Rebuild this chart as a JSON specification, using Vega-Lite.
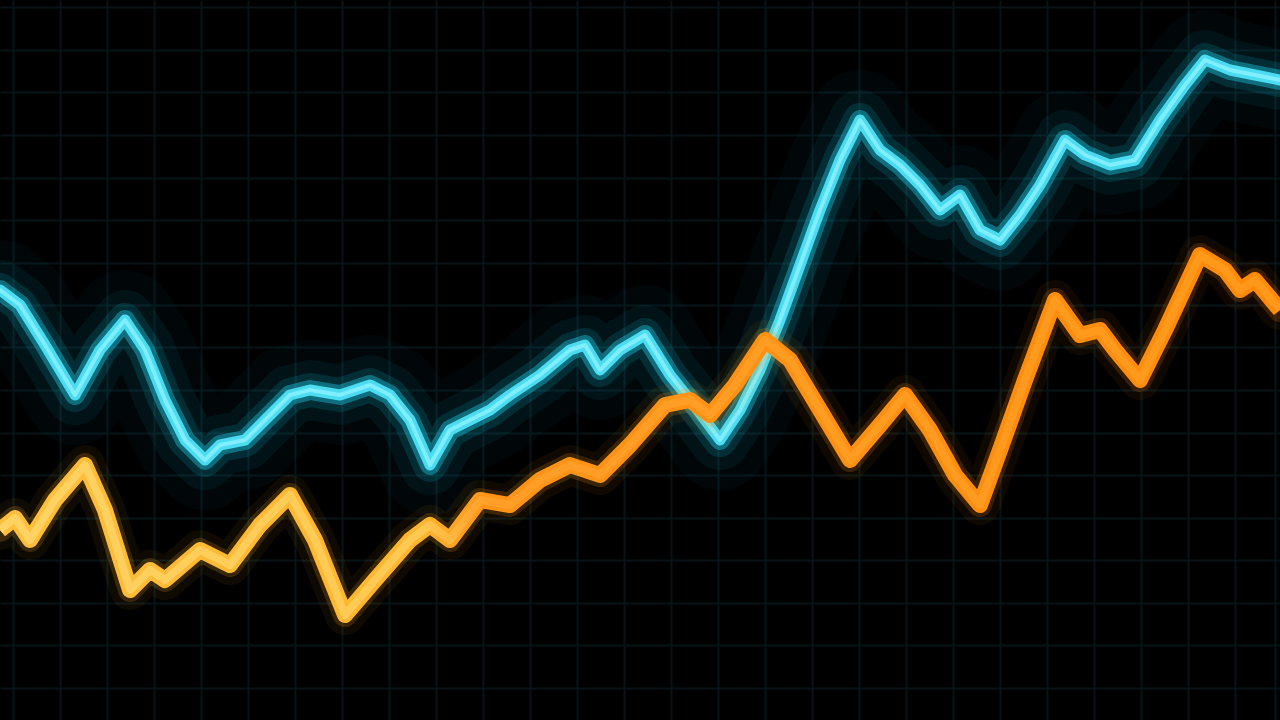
{
  "$schema": "https://vega.github.io/schema/vega-lite/v6.json",
  "autosize": {"type": "none"},
  "width": 1280,
  "height": 720,
  "padding": 0,
  "background": "#000000",
  "config": {"view": {"stroke": null}},
  "datasets": {
    "cyan": [
      {"t": 0, "v": 430}, {"t": 20, "v": 415}, {"t": 45, "v": 375}, {"t": 75, "v": 325}, {"t": 100, "v": 370},
      {"t": 125, "v": 400}, {"t": 145, "v": 370}, {"t": 165, "v": 320}, {"t": 185, "v": 280}, {"t": 205, "v": 260},
      {"t": 220, "v": 275}, {"t": 245, "v": 280}, {"t": 265, "v": 300}, {"t": 290, "v": 325}, {"t": 310, "v": 330},
      {"t": 340, "v": 325}, {"t": 370, "v": 335}, {"t": 390, "v": 325}, {"t": 410, "v": 300}, {"t": 430, "v": 255},
      {"t": 450, "v": 290}, {"t": 470, "v": 300}, {"t": 490, "v": 310}, {"t": 510, "v": 325}, {"t": 540, "v": 345},
      {"t": 570, "v": 370}, {"t": 585, "v": 375}, {"t": 600, "v": 350}, {"t": 620, "v": 370}, {"t": 645, "v": 385},
      {"t": 670, "v": 345}, {"t": 690, "v": 320}, {"t": 720, "v": 280}, {"t": 740, "v": 310}, {"t": 760, "v": 350},
      {"t": 780, "v": 400}, {"t": 800, "v": 455}, {"t": 820, "v": 510}, {"t": 840, "v": 560}, {"t": 860, "v": 600},
      {"t": 880, "v": 570}, {"t": 900, "v": 555}, {"t": 920, "v": 535}, {"t": 940, "v": 510}, {"t": 960, "v": 525},
      {"t": 980, "v": 490}, {"t": 1000, "v": 480}, {"t": 1020, "v": 505}, {"t": 1040, "v": 535}, {"t": 1065, "v": 580},
      {"t": 1085, "v": 565}, {"t": 1110, "v": 555}, {"t": 1135, "v": 560}, {"t": 1160, "v": 600}, {"t": 1185, "v": 635},
      {"t": 1205, "v": 660}, {"t": 1230, "v": 650}, {"t": 1255, "v": 645}, {"t": 1280, "v": 640}
    ],
    "orange": [
      {"t": 0, "v": 190}, {"t": 15, "v": 202}, {"t": 30, "v": 180}, {"t": 55, "v": 220}, {"t": 85, "v": 255},
      {"t": 105, "v": 210}, {"t": 130, "v": 130}, {"t": 150, "v": 150}, {"t": 165, "v": 140}, {"t": 200, "v": 170},
      {"t": 230, "v": 155}, {"t": 260, "v": 195}, {"t": 290, "v": 225}, {"t": 315, "v": 180}, {"t": 345, "v": 105},
      {"t": 375, "v": 140}, {"t": 410, "v": 180}, {"t": 430, "v": 195}, {"t": 450, "v": 180}, {"t": 480, "v": 220},
      {"t": 510, "v": 215}, {"t": 540, "v": 240}, {"t": 570, "v": 255}, {"t": 600, "v": 245}, {"t": 630, "v": 275},
      {"t": 665, "v": 315}, {"t": 690, "v": 320}, {"t": 710, "v": 305}, {"t": 735, "v": 335}, {"t": 765, "v": 380},
      {"t": 790, "v": 360}, {"t": 820, "v": 310}, {"t": 850, "v": 260}, {"t": 880, "v": 295}, {"t": 905, "v": 325},
      {"t": 930, "v": 290}, {"t": 955, "v": 245}, {"t": 980, "v": 215}, {"t": 1000, "v": 270}, {"t": 1025, "v": 340},
      {"t": 1055, "v": 420}, {"t": 1080, "v": 385}, {"t": 1100, "v": 390}, {"t": 1115, "v": 370}, {"t": 1140, "v": 340},
      {"t": 1165, "v": 390}, {"t": 1200, "v": 465}, {"t": 1225, "v": 450}, {"t": 1240, "v": 430}, {"t": 1255, "v": 440},
      {"t": 1280, "v": 410}
    ]
  },
  "encoding": {
    "x": {
      "field": "t", "type": "quantitative",
      "scale": {"domain": [0, 1280], "nice": false, "zero": false},
      "axis": {"title": null, "labels": false, "ticks": false, "domain": false, "grid": true,
               "gridColor": "#061417", "gridWidth": 2,
               "values": [13, 60, 107, 154, 201, 248, 295, 342, 389, 436, 483, 530, 577, 624, 671, 718, 765, 812, 859, 906, 953, 1000, 1047, 1094, 1141, 1188, 1235, 1275]}
    },
    "y": {
      "field": "v", "type": "quantitative",
      "scale": {"domain": [0, 720], "nice": false, "zero": false},
      "axis": {"title": null, "labels": false, "ticks": false, "domain": false, "grid": true,
               "gridColor": "#061417", "gridWidth": 2,
               "values": [712.5, 670, 627.5, 585, 542.5, 500, 457.5, 415, 372.5, 330, 287.5, 245, 202.5, 160, 117.5, 75, 32.5]}
    }
  },
  "layer": [
    {"data": {"name": "cyan"}, "mark": {"type": "line", "color": "#0a8fa8", "strokeWidth": 100, "opacity": 0.05, "strokeJoin": "round", "strokeCap": "round"}},
    {"data": {"name": "cyan"}, "mark": {"type": "line", "color": "#0aa5c0", "strokeWidth": 60, "opacity": 0.08, "strokeJoin": "round", "strokeCap": "round"}},
    {"data": {"name": "cyan"}, "mark": {"type": "line", "color": "#12b8d4", "strokeWidth": 34, "opacity": 0.16, "strokeJoin": "round", "strokeCap": "round"}},
    {"data": {"name": "cyan"}, "mark": {"type": "line", "color": "#22d0ea", "strokeWidth": 20, "opacity": 0.4, "strokeJoin": "round", "strokeCap": "round"}},
    {"data": {"name": "cyan"}, "mark": {"type": "line", "color": "#4fe2f8", "strokeWidth": 11, "opacity": 0.95, "strokeJoin": "round", "strokeCap": "round"}},
    {"data": {"name": "cyan"}, "mark": {"type": "line", "color": "#86f0fd", "strokeWidth": 4, "opacity": 0.9, "strokeJoin": "round", "strokeCap": "round"}},
    {"data": {"name": "orange"}, "mark": {"type": "line", "strokeWidth": 40, "opacity": 0.06, "strokeJoin": "round", "strokeCap": "round",
      "color": {"gradient": "linear", "stops": [{"offset": 0, "color": "#ffb020"}, {"offset": 0.35, "color": "#ffa010"}, {"offset": 1, "color": "#ff7a00"}]}}},
    {"data": {"name": "orange"}, "mark": {"type": "line", "strokeWidth": 24, "opacity": 0.18, "strokeJoin": "round", "strokeCap": "round",
      "color": {"gradient": "linear", "stops": [{"offset": 0, "color": "#ffb020"}, {"offset": 0.35, "color": "#ffa010"}, {"offset": 1, "color": "#ff7a00"}]}}},
    {"data": {"name": "orange"}, "mark": {"type": "line", "strokeWidth": 16, "opacity": 1, "strokeJoin": "round", "strokeCap": "butt",
      "color": {"gradient": "linear", "stops": [{"offset": 0, "color": "#ffbf3a"}, {"offset": 0.33, "color": "#ffb52e"}, {"offset": 0.38, "color": "#ff9418"}, {"offset": 1, "color": "#ff8a08"}]}}},
    {"data": {"name": "orange"}, "mark": {"type": "line", "strokeWidth": 8, "opacity": 0.9, "strokeJoin": "round", "strokeCap": "butt",
      "color": {"gradient": "linear", "stops": [{"offset": 0, "color": "#ffd568"}, {"offset": 0.33, "color": "#ffcb55"}, {"offset": 0.38, "color": "#ffa02a"}, {"offset": 1, "color": "#ff9a1c"}]}}}
  ]
}
